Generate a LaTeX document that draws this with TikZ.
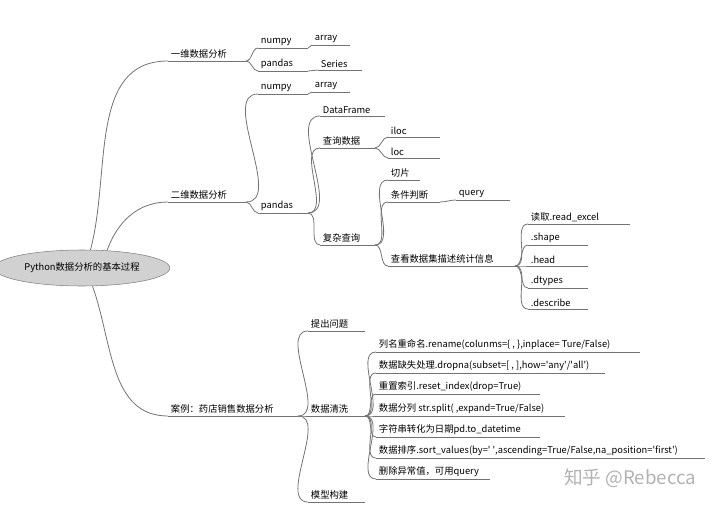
\documentclass[tikz,border=0pt]{standalone}
\usepackage{fontspec}
\setmainfont{Noto Sans CJK SC}
\usetikzlibrary{shapes.geometric}

% underlined mind-map entry: name, x, y (underline), length, text
\newcommand{\entry}[5]{%
  \coordinate (#1w) at (#2,#3);
  \coordinate (#1e) at (#2+#4,#3);
  \node[lbl] (#1) at (#1w) {#5};
  \draw[ln] (#1w) -- (#1e);}
% branch between entries
\newcommand{\branch}[2]{\draw[ln] (#1e) to[out=0,in=180,looseness=0.9] (#2w);}
\newcommand{\q}{\textquotesingle}

\begin{document}
\begin{tikzpicture}[x=0.75pt,y=-0.75pt]
\tikzset{
  lbl/.style={anchor=south west,inner xsep=2pt,inner ysep=1.5pt,
    font=\fontsize{7}{8.5}\selectfont},
  ln/.style={draw=black!55,line width=0.6pt},
  root/.style={ellipse,draw=black!50,fill=black!18,minimum width=106pt,minimum height=27pt,font=\fontsize{7}{8.5}\selectfont}
}
\useasboundingbox (0,0) rectangle (720,506);
\node[root] (r) at (82,268) {Python数据分析的基本过程};

\entry{d1}{168}{61}{78}{一维数据分析}
\entry{d2}{168}{202}{78}{二维数据分析}
\entry{cs}{168}{416}{130}{案例：药店销售数据分析}

\entry{np1}{258}{48}{50}{numpy}
\entry{pd1}{258}{71}{50}{pandas}
\entry{ar1}{312}{45}{38}{array}
\entry{se1}{318}{70}{44}{Series}

\entry{np2}{258}{94}{50}{numpy}
\entry{pd2}{258}{213}{50}{pandas}
\entry{ar2}{312}{92}{38}{array}

\entry{df}{320}{116}{65}{DataFrame}
\entry{cx}{320}{148}{55}{查询数据}
\entry{fz}{320}{245}{55}{复杂查询}
\entry{il}{388}{137}{52}{iloc}
\entry{lo}{388}{158}{52}{loc}
\entry{qp}{388}{180}{32}{切片}
\entry{tj}{388}{202}{52}{条件判断}
\entry{qy}{456}{200}{54}{query}
\entry{ck}{388}{266}{127}{查看数据集描述统计信息}
\entry{rd}{528}{224}{102}{读取.read\_excel}
\entry{sh}{528}{245}{60}{.shape}
\entry{hd}{528}{266}{60}{.head}
\entry{dt}{528}{288}{60}{.dtypes}
\entry{ds}{528}{309}{60}{.describe}

\entry{tc}{308}{331}{57}{提出问题}
\entry{qx}{308}{416}{57}{数据清洗}
\entry{mx}{308}{502}{57}{模型构建}
\entry{c1}{376}{352}{264}{列名重命名.rename(colunms=\{ , \},inplace= Ture/False)}
\entry{c2}{376}{373}{229}{数据缺失处理.dropna(subset=[ , ],how=\q any\q/\q all\q)}
\entry{c3}{376}{394}{164}{重置索引.reset\_index(drop=True)}
\entry{c4}{376}{416}{189}{数据分列 str.split( ,expand=True/False)}
\entry{c5}{376}{437}{164}{字符串转化为日期pd.to\_datetime}
\entry{c6}{376}{458}{329}{数据排序.sort\_values(by=\q\ \q,ascending=True/False,na\_position=\q first\q)}
\entry{c7}{376}{479}{114}{删除异常值，可用query}

\draw[ln] (r.65) to[out=75,in=180] (d1w);
\draw[ln] (r.35) to[out=70,in=180] (d2w);
\draw[ln] (r.-60) to[out=-70,in=180] (csw);

\foreach \a/\b in {d1/np1,d1/pd1,np1/ar1,pd1/se1,d2/np2,d2/pd2,np2/ar2,
  pd2/df,pd2/cx,pd2/fz,cx/il,cx/lo,fz/qp,fz/tj,fz/ck,tj/qy,
  ck/rd,ck/sh,ck/hd,ck/dt,ck/ds,cs/tc,cs/qx,cs/mx,
  qx/c1,qx/c2,qx/c3,qx/c4,qx/c5,qx/c6,qx/c7}
  {\branch{\a}{\b}}

\node[text=black!30,font=\fontsize{14}{16}\selectfont] (wm) at (630,478) {知乎 @Rebecca};
\end{tikzpicture}
\end{document}
